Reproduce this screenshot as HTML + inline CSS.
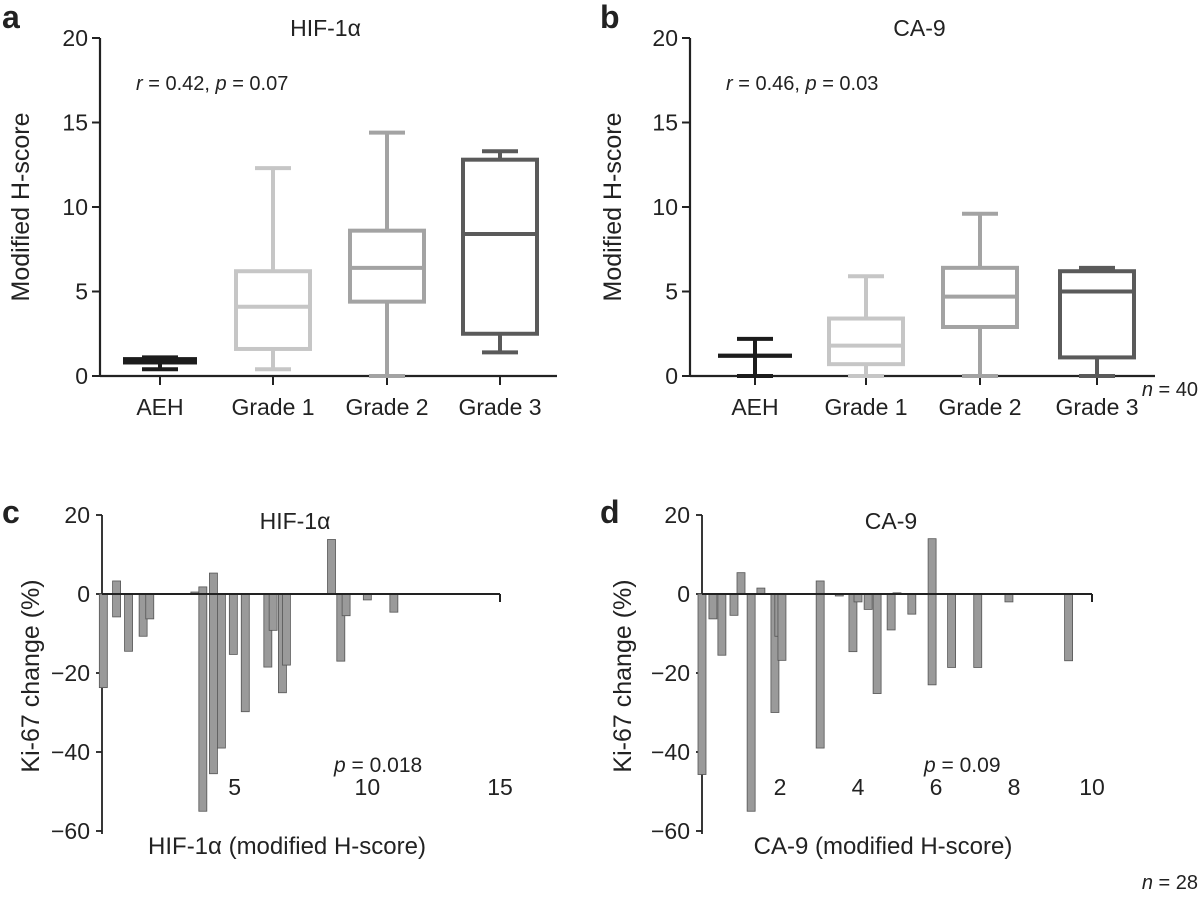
<!DOCTYPE html>
<html><head><meta charset="utf-8"><style>
html,body{margin:0;padding:0;background:#fff;}
svg{display:block;font-family:"Liberation Sans",sans-serif;}
</style></head><body>
<svg id="fig" width="1200" height="898" viewBox="0 0 1200 898" xmlns="http://www.w3.org/2000/svg"></svg>
<script>
// ---- Panel a / b data (box plots) ----
const groups = ["AEH","Grade 1","Grade 2","Grade 3"];
const hifMin = [0.4, 0.4, 0, 1.4];
const hifQ1  = [0.8, 1.6, 4.4, 2.5];
const hifMed = [0.85, 4.1, 6.4, 8.4];
const hifQ3  = [1.0, 6.2, 8.6, 12.8];
const hifMax = [1.1, 12.3, 14.4, 13.3];
const caMin = [0, 0, 0, 0];
const caQ1  = [1.2, 0.7, 2.9, 1.1];
const caMed = [1.2, 1.8, 4.7, 5.0];
const caQ3  = [1.2, 3.4, 6.4, 6.2];
const caMax = [2.2, 5.9, 9.6, 6.4];
const boxTicks = [0,5,10,15,20];
// ---- Panel c / d data (bars) ----
const hifScore = [0.05,0.55,0.55,1.0,1.55,1.8,3.5,3.8,3.8,4.2,4.2,4.5,4.95,5.4,6.25,6.45,6.8,6.95,8.65,9.0,9.2,10.0,11.0];
const hifKi    = [-23.7,3.3,-5.8,-14.5,-10.7,-6.3,0.5,1.8,-55,5.3,-45.5,-39,-15.3,-29.8,-18.5,-9.2,-25,-18,13.8,-17,-5.5,-1.5,-4.6];
const caScore  = [0,0.28,0.51,0.82,1.0,1.26,1.51,1.87,1.97,2.05,3.03,3.03,3.52,3.87,4.0,4.26,4.49,4.85,5.0,5.38,5.9,5.9,6.4,7.07,7.87,9.4];
const caKi     = [-45.7,-6.3,-15.5,-5.4,5.4,-55,1.5,-30,-10.7,-16.8,3.3,-39,-0.5,-14.6,-2,-3.9,-25.2,-9.1,0.3,-5.1,14,-23,-18.6,-18.6,-2,-16.9];
const barTicks = [20,0,-20,-40,-60];
const cTicks = [5,10,15];
const dTicks = [2,4,6,8,10];
const boxColors = ["#1c1c1c","#c6c6c6","#a3a3a3","#5a5a5a"];

const svg = document.getElementById('fig');
const NS = "http://www.w3.org/2000/svg";
function mk(tag, attrs, parent){
  const e = document.createElementNS(NS, tag);
  for (const k in attrs) e.setAttribute(k, attrs[k]);
  (parent||svg).appendChild(e);
  return e;
}
function txt(x,y,s,size,anchor,parent,extra){
  const t = mk('text',{x:x,y:y,'font-size':size,'text-anchor':anchor||'middle',fill:'#222'},parent);
  if (extra) for (const k in extra) t.setAttribute(k, extra[k]);
  t.innerHTML = s;
  return t;
}

function boxPanel(name, axX, axEnd, catX, mn, q1, md, q3, mx, title, stat, ytx){
  const g = mk('g',{});
  
  
  const y0 = 376, y20 = 38;
  const ys = v => y0 - (v/20)*(y0-y20);
  const ax = mk('g',{},g);
  
  
  mk('line',{x1:axX,y1:y20,x2:axX,y2:y0,stroke:'#222','stroke-width':2.2},ax);
  boxTicks.forEach(t=>{
    mk('line',{x1:axX-8,y1:ys(t),x2:axX,y2:ys(t),stroke:'#222','stroke-width':2},ax);
    const l = txt(axX-12, ys(t)+8, t, 23, 'end', ax);
    
    
  });
  const xa = mk('g',{},g);
  
  
  const yt = txt(0, 0, 'Modified H-score', 25, 'middle', g, {transform:'rotate(-90 '+ytx+' 207)', x:ytx, y:216});
  
  
  groups.forEach((gname,i)=>{
    const cx = catX[i], c = boxColors[i], hw = 37;
    const b = mk('g',{},g);
    
    
    if (i===0){
      mk('line',{x1:cx,y1:ys(mx[i]),x2:cx,y2:ys(mn[i]),stroke:c,'stroke-width':4},b);
      mk('line',{x1:cx-18,y1:ys(mx[i]),x2:cx+18,y2:ys(mx[i]),stroke:c,'stroke-width':4},b);
      mk('line',{x1:cx-18,y1:ys(mn[i]),x2:cx+18,y2:ys(mn[i]),stroke:c,'stroke-width':4},b);
      mk('rect',{x:cx-hw,y:ys(q3[i])-2,width:hw*2,height:Math.max(ys(q1[i])-ys(q3[i]),0)+4,fill:c},b);
      mk('line',{x1:cx-hw,y1:ys(md[i]),x2:cx+hw,y2:ys(md[i]),stroke:c,'stroke-width':4},b);
    } else {
      mk('line',{x1:cx,y1:ys(mx[i]),x2:cx,y2:ys(q3[i]),stroke:c,'stroke-width':4},b);
      mk('line',{x1:cx,y1:ys(q1[i]),x2:cx,y2:ys(mn[i]),stroke:c,'stroke-width':4},b);
      mk('line',{x1:cx-18,y1:ys(mx[i]),x2:cx+18,y2:ys(mx[i]),stroke:c,'stroke-width':4},b);
      mk('line',{x1:cx-18,y1:ys(mn[i]),x2:cx+18,y2:ys(mn[i]),stroke:c,'stroke-width':4},b);
      mk('rect',{x:cx-hw,y:ys(q3[i]),width:hw*2,height:ys(q1[i])-ys(q3[i]),fill:'none',stroke:c,'stroke-width':4},b);
      mk('line',{x1:cx-hw,y1:ys(md[i]),x2:cx+hw,y2:ys(md[i]),stroke:c,'stroke-width':4},b);
    }
    mk('line',{x1:cx,y1:y0,x2:cx,y2:y0+9,stroke:'#222','stroke-width':2},xa);
    const l = txt(cx, y0+39, gname, 23, 'middle', xa);
    
    
  });
  mk('line',{x1:axX,y1:y0,x2:axEnd,y2:y0,stroke:'#222','stroke-width':2.2},xa);
  const tt = txt((axX+axEnd)/2 - 3, 36, title, 23, 'middle', g);
  
  
  const st = txt(axX+36, 90, stat, 20, 'start', g);
  
  
}

function barPanel(name, axX, axEnd, xmax, ticks, xs_, ys_, title, xtitle, ptext, px, ytx){
  const g = mk('g',{});
  
  
  const y0 = 594, yTop = 515, yBot = 834;
  const ys = v => y0 - v*(y0-yTop)/20;
  const xs = v => axX + v*(axEnd-axX)/xmax;
  const ax = mk('g',{},g);
  
  
  mk('line',{x1:axX,y1:yTop,x2:axX,y2:yBot,stroke:'#222','stroke-width':1.8},ax);
  barTicks.forEach(t=>{
    mk('line',{x1:axX-6,y1:ys(t),x2:axX,y2:ys(t),stroke:'#222','stroke-width':1.8},ax);
    const l = txt(axX-12, ys(t)+8, (t<0?'\u2212'+(-t):t), 23, 'end', ax);
    
    
  });
  const yt = txt(0,0,'Ki-67 change (%)', 25, 'middle', g, {transform:'rotate(-90 '+ytx+' 676)', x:ytx, y:685});
  
  
  const bars = mk('g',{},g);
  
  
  xs_.forEach((h,i)=>{
    const v = ys_[i];
    const r = mk('rect',{x:xs(h)-4, y:Math.min(ys(v),y0), width:8, height:Math.max(Math.abs(ys(v)-y0),1.5), fill:'#9a9a9a', stroke:'#555','stroke-width':0.8},bars);
    
    
  });
  const xa = mk('g',{},g);
  
  
  mk('line',{x1:axX,y1:y0,x2:axEnd,y2:y0,stroke:'#222','stroke-width':2},xa);
  mk('line',{x1:axEnd,y1:y0,x2:axEnd,y2:y0+8,stroke:'#222','stroke-width':2},xa);
  ticks.forEach(t=>{
    const l = txt(xs(t), 795, t, 23, 'middle', xa);
    
    
  });
  const xt = txt((axX+axEnd)/2-14, 854, xtitle, 24, 'middle', g);
  
  
  const tt = txt((axX+axEnd)/2-6, 529, title, 23, 'middle', g);
  
  
  const pt = txt(px, 772, ptext, 21, 'start', g);
  
  
}

boxPanel('panel-a-hif-boxplot', 100, 557, [160,273,387,500], hifMin,hifQ1,hifMed,hifQ3,hifMax, 'HIF-1&#945;', '<tspan font-style="italic">r</tspan> = 0.42, <tspan font-style="italic">p</tspan> = 0.07', 20);
boxPanel('panel-b-ca9-boxplot', 690, 1155, [755,866,980,1097], caMin,caQ1,caMed,caQ3,caMax, 'CA-9', '<tspan font-style="italic">r</tspan> = 0.46, <tspan font-style="italic">p</tspan> = 0.03', 612);
barPanel('panel-c-hif-bars', 102, 500, 15, cTicks, hifScore, hifKi, 'HIF-1&#945;', 'HIF-1&#945; (modified H-score)', '<tspan font-style="italic">p</tspan> = 0.018', 334, 30);
barPanel('panel-d-ca9-bars', 702, 1092, 10, dTicks, caScore, caKi, 'CA-9', 'CA-9 (modified H-score)', '<tspan font-style="italic">p</tspan> = 0.09', 924, 622);

[['a',2,28],['b',600,28],['c',2,523],['d',600,523]].forEach(p=>{
  const t = txt(p[1], p[2], p[0], 32, 'start', svg, {'font-weight':'bold'});
  
  
});
const n1 = txt(1198, 396, '<tspan font-style="italic">n</tspan> = 40', 20, 'end');


const n2 = txt(1198, 889, '<tspan font-style="italic">n</tspan> = 28', 20, 'end');


</script>
</body></html>
